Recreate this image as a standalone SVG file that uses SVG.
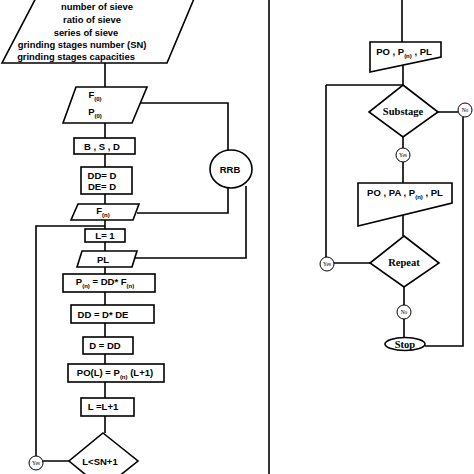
<svg xmlns="http://www.w3.org/2000/svg" width="474" height="474" viewBox="0 0 474 474">
<style>
.s{fill:#fff;stroke:#000;stroke-width:1.6}
.l{fill:none;stroke:#000;stroke-width:1.6}
.t{font-family:"Liberation Sans",Arial,sans-serif;font-weight:bold;font-size:9.5px;fill:#000;text-anchor:middle}
.h{font-size:9.4px}
.sub{font-size:6px}
.r{font-family:"Liberation Serif","Times New Roman",serif;font-weight:bold;font-size:10.5px;fill:#000;text-anchor:middle}
.c{fill:#fff;stroke:#000;stroke-width:1}
.ct{font-family:"Liberation Serif",serif;font-size:5.5px;fill:#000;text-anchor:middle}
</style>
<rect width="474" height="474" fill="#fff"/>
<g id="connectors">
<path class="l" d="M105 63V88M105 123V138M105 154V167M105 194V204M105 220V229M105 242V251M105 267V274M105 292V305M105 323V337M105 354V364M105 382V398M105 416V433"/>
<path class="l" d="M140 103H228V150M228 188V213H137M246 186V258H135"/>
<path class="l" d="M105 226H36V456M42 461H69"/>
<path class="l" d="M269 0V474"/>
<path class="l" d="M402 0V42M403 62V85M326 85H403M326 85V257M334 263H370"/>
<path class="l" d="M438 112H458M463 117V346H425"/>
<path class="l" d="M403 137V148M403 162V183M403 215V236M404 287V305M404 319V338"/>
</g>
<g id="input-top">
<polygon class="s" points="38,-6 196,-6 167,63 2,63"/>
<text class="t h" x="97" y="10">number of sieve</text>
<text class="t h" x="92" y="23">ratio of sieve</text>
<text class="t h" x="86" y="36">series of sieve</text>
<text class="t h" x="82" y="48">grinding stages number (SN)</text>
<text class="t h" x="76" y="60">grinding stages capacities</text>
</g>
<g id="F0P0">
<polygon class="s" points="76,87 147,87 132,123 63,123"/>
<text class="t" x="95" y="98">F<tspan class="sub" dy="3">(0)</tspan></text>
<text class="t" x="95" y="115">P<tspan class="sub" dy="3">(0)</tspan></text>
</g>
<g id="BSD">
<rect class="s" x="74" y="138" width="61" height="16"/>
<text class="t" x="102" y="150">B , S , D</text>
</g>
<g id="DDDE">
<rect class="s" x="81" y="167" width="51" height="27"/>
<text class="t" x="102" y="179">DD= D</text>
<text class="t" x="102" y="190">DE= D</text>
</g>
<g id="RRB">
<ellipse class="s" cx="231" cy="169" rx="21" ry="19"/>
<text class="t" x="230" y="173">RRB</text>
</g>
<g id="Fn">
<polygon class="s" points="78,204 139,204 133,220 71,220"/>
<text class="t" x="103" y="214">F<tspan class="sub" dy="3">(n)</tspan></text>
</g>
<g id="L1">
<rect class="s" x="85" y="229" width="40" height="13"/>
<text class="t" x="105" y="239">L= 1</text>
</g>
<g id="PL">
<polygon class="s" points="82,251 137,251 132,267 77,267"/>
<text class="t" x="103" y="263">PL</text>
</g>
<g id="Pn">
<rect class="s" x="63" y="274" width="92" height="18"/>
<text class="t" x="105" y="285">P<tspan class="sub" dy="3">(n)</tspan><tspan dy="-3"> = DD* F</tspan><tspan class="sub" dy="3">(n)</tspan></text>
</g>
<g id="DDDE2">
<rect class="s" x="71" y="305" width="83" height="18"/>
<text class="t" x="103" y="318">DD = D* DE</text>
</g>
<g id="DDD">
<rect class="s" x="83" y="337" width="50" height="17"/>
<text class="t" x="105" y="349">D = DD</text>
</g>
<g id="POL">
<rect class="s" x="68" y="364" width="96" height="18"/>
<text class="t" x="115" y="376">PO(L)  = P<tspan class="sub" dy="3">(n)</tspan><tspan dy="-3"> (L+1)</tspan></text>
</g>
<g id="LL1">
<rect class="s" x="81" y="398" width="53" height="18"/>
<text class="t" x="103" y="410">L =L+1</text>
</g>
<g id="cond">
<polygon class="s" points="103,433 138,461 103,489 69,461"/>
<text class="t" x="100" y="465">L&lt;SN+1</text>
</g>
<g id="yes1">
<circle class="c" cx="36" cy="463" r="7"/>
<text class="ct" x="36" y="465">Yes</text>
</g>
<g id="out1">
<polygon class="s" points="370,42 441,42 441,57 370,72"/>
<text class="t" x="404" y="55">PO , P<tspan class="sub" dy="3">(n)</tspan><tspan dy="-3"> , PL</tspan></text>
</g>
<g id="substage">
<polygon class="s" points="403,85 438,112 403,137 369,112"/>
<text class="r" x="403" y="115">Substage</text>
</g>
<g id="no1">
<circle class="c" cx="465" cy="110" r="7"/>
<text class="ct" x="465" y="112">No</text>
</g>
<g id="yes2">
<circle class="c" cx="403" cy="155" r="7"/>
<text class="ct" x="403" y="157">Yes</text>
</g>
<g id="out2">
<polygon class="s" points="358,183 452,183 452,203 358,226"/>
<text class="t" x="405" y="196">PO , PA , P<tspan class="sub" dy="3">(n)</tspan><tspan dy="-3"> , PL</tspan></text>
</g>
<g id="repeat">
<polygon class="s" points="404,236 439,263 404,287 370,263"/>
<text class="r" x="404" y="266">Repeat</text>
</g>
<g id="yes3">
<circle class="c" cx="327" cy="264" r="7"/>
<text class="ct" x="327" y="266">Yes</text>
</g>
<g id="no2">
<circle class="c" cx="404" cy="312" r="7"/>
<text class="ct" x="404" y="314">No</text>
</g>
<g id="stop">
<ellipse class="s" cx="405" cy="344" rx="20" ry="6.5"/>
<text class="r" x="405" y="348">Stop</text>
</g>
</svg>
